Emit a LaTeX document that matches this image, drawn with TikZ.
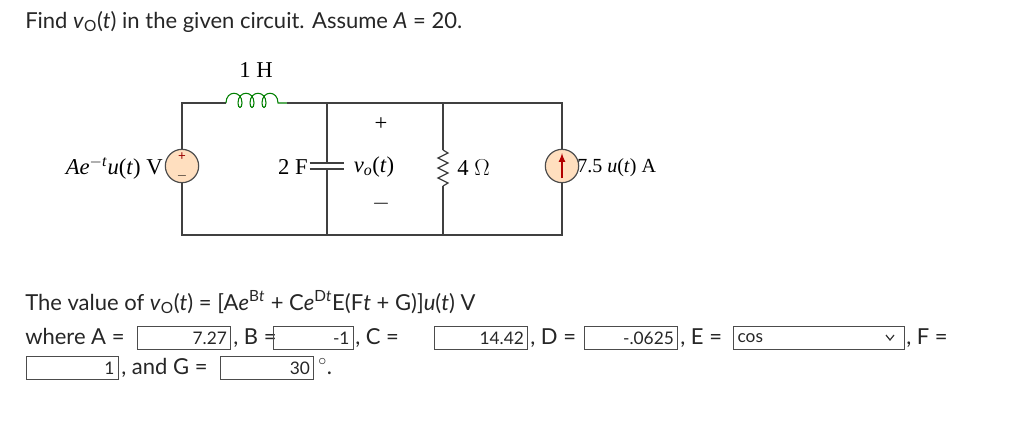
\documentclass[tikz,border=0pt]{standalone}
\usepackage{fontspec}
\setmainfont{Lato}
\newfontfamily\tms{Liberation Serif}
\begin{document}
\begin{tikzpicture}[x=0.75pt,y=-0.75pt,
  txt/.style={anchor=base west,inner sep=0,font=\fontsize{16.5}{18}\selectfont,text=black!85},
  ctxt/.style={inner sep=0,font=\tms\fontsize{17}{19}\selectfont},
  box/.style={draw=black!70,line width=0.8pt,minimum height=17pt,inner sep=2pt,font=\fontsize{13}{14}\selectfont,text=black!85},
  wire/.style={draw=black!75,line width=0.9pt},
  src/.style={circle,draw=black!70,fill=orange!25,line width=0.9pt,minimum size=25pt,inner sep=0}]
\useasboundingbox (0,0) rectangle (1020,429);
\fill[white] (0,0) rectangle (1020,429);
\node[txt] (q) at (25,28) {Find \textit{v}\textsubscript{O}(\textit{t}) in the given circuit. Assume \textit{A} = 20.};
% circuit coordinates
\coordinate (tl) at (182,103); \coordinate (bl) at (182,235);
\coordinate (lA) at (226,103); \coordinate (lB) at (287,103);
\coordinate (tc) at (327,103); \coordinate (bc) at (327,235);
\coordinate (tr) at (443,103); \coordinate (br) at (443,235);
\coordinate (ti) at (562,103); \coordinate (bi) at (562,235);
\coordinate (c1) at (327,163); \coordinate (c2) at (327,169);
\coordinate (r1) at (443,150); \coordinate (r2) at (443,186);
\node[src] (vs) at (182,166) {};
\node[src] (is) at (562,166) {};
\draw[wire] (vs.north) -- (tl) -- (lA);
\draw[green!50!black,line width=0.8pt] (lA)
  \foreach \s in {226,238,250,262} {
    .. controls (\s,90) and (\s+16,90) .. (\s+16,103)
    \ifnum\s<262 .. controls (\s+16,109) and (\s+12,109) .. (\s+12,103) \fi
  } -- (lB);
\draw[wire] (lB) -- (ti) -- (is.north);
\draw[wire] (vs.south) -- (bl) -- (bi) -- (is.south);
\draw[wire] (tc) -- (c1); \draw[wire] (c2) -- (bc);
\draw[black!75,line width=0.9pt] ([xshift=-13]c1) -- ([xshift=13]c1) ([xshift=-13]c2) -- ([xshift=13]c2);
\draw[wire] (tr) -- (r1);
\draw[black!75,line width=0.9pt] (r1) -- ++(5,3) -- ++(-10,5) -- ++(10,5) -- ++(-10,5) -- ++(10,5) -- ++(-10,5) -- ++(10,5) -- (r2);
\draw[wire] (r2) -- (br);
\node[inner sep=0,font=\fontsize{10}{10}\selectfont,text=red!60!black] (vp) at (182,157) {+};
\node[inner sep=0,font=\fontsize{10}{10}\selectfont,text=black] (vm) at (182,176) {$-$};
\draw[red!70!black,line width=1.3pt,-{latex}] (562,178) -- (562,153);
\node[ctxt,anchor=east] (lv) at (163,168) {\textit{Ae}\textsuperscript{$-$\textit{t}}\textit{u}(\textit{t}) V};
\node[ctxt] (lL) at (256,70) {1 H};
\node[ctxt,anchor=east] (lC) at (308,167) {2 F};
\node[ctxt] (lvo) at (374,167) {\textit{v}\textsubscript{\textit{o}}(\textit{t})};
\node[ctxt] (pl) at (381,124) {+};
\node[ctxt] (mn) at (381,204) {$-$};
\node[ctxt,anchor=west] (lR) at (457,168) {4 $\Omega$};
\node[ctxt,anchor=west] (lI) at (577,168) {\fontsize{15}{17}\selectfont 7.5 \textit{u}(\textit{t}) A};
% text
\node[txt] (l1) at (25,310) {The value of \textit{v}\textsubscript{O}(\textit{t}) = [A\textit{e}\textsuperscript{B\textit{t}} + C\textit{e}\textsuperscript{D\textit{t}}E(F\textit{t} + G)]\textit{u}(\textit{t}) V};
\node[txt] (l2) at (25,344) {where A =};
\node[box,minimum width=70pt,anchor=west,text width=64pt,align=right] (bA) at (137,338) {7.27};
\node[txt] (l2b) at (233,344) {, B =};
\node[box,minimum width=60pt,anchor=west,text width=54pt,align=right] (bB) at (273,338) {-1};
\node[txt] (l2c) at (355,344) {, C =};
\node[box,minimum width=70pt,anchor=west,text width=64pt,align=right] (bC) at (434,338) {14.42};
\node[txt] (l2d) at (530,344) {, D =};
\node[box,minimum width=70pt,anchor=west,text width=64pt,align=right] (bD) at (584,338) {-.0625};
\node[txt] (l2e) at (680,344) {, E =};
\node[box,minimum width=128pt,anchor=west,text width=122pt,align=left] (bE) at (733,338) {cos};
\draw[black!80,line width=0.9pt] (886,335) -- (890,340) -- (894,335);
\node[txt] (l2f) at (906,344) {, F =};
\node[box,minimum width=69pt,anchor=west,text width=63pt,align=right] (bF) at (26,368) {1};
\node[txt] (l3) at (121,374) {, and G =};
\node[box,minimum width=70pt,anchor=west,text width=64pt,align=right] (bG) at (220,368) {30};
\node[txt] (l3b) at (318,374) {$^\circ$.};
\end{tikzpicture}
\end{document}
